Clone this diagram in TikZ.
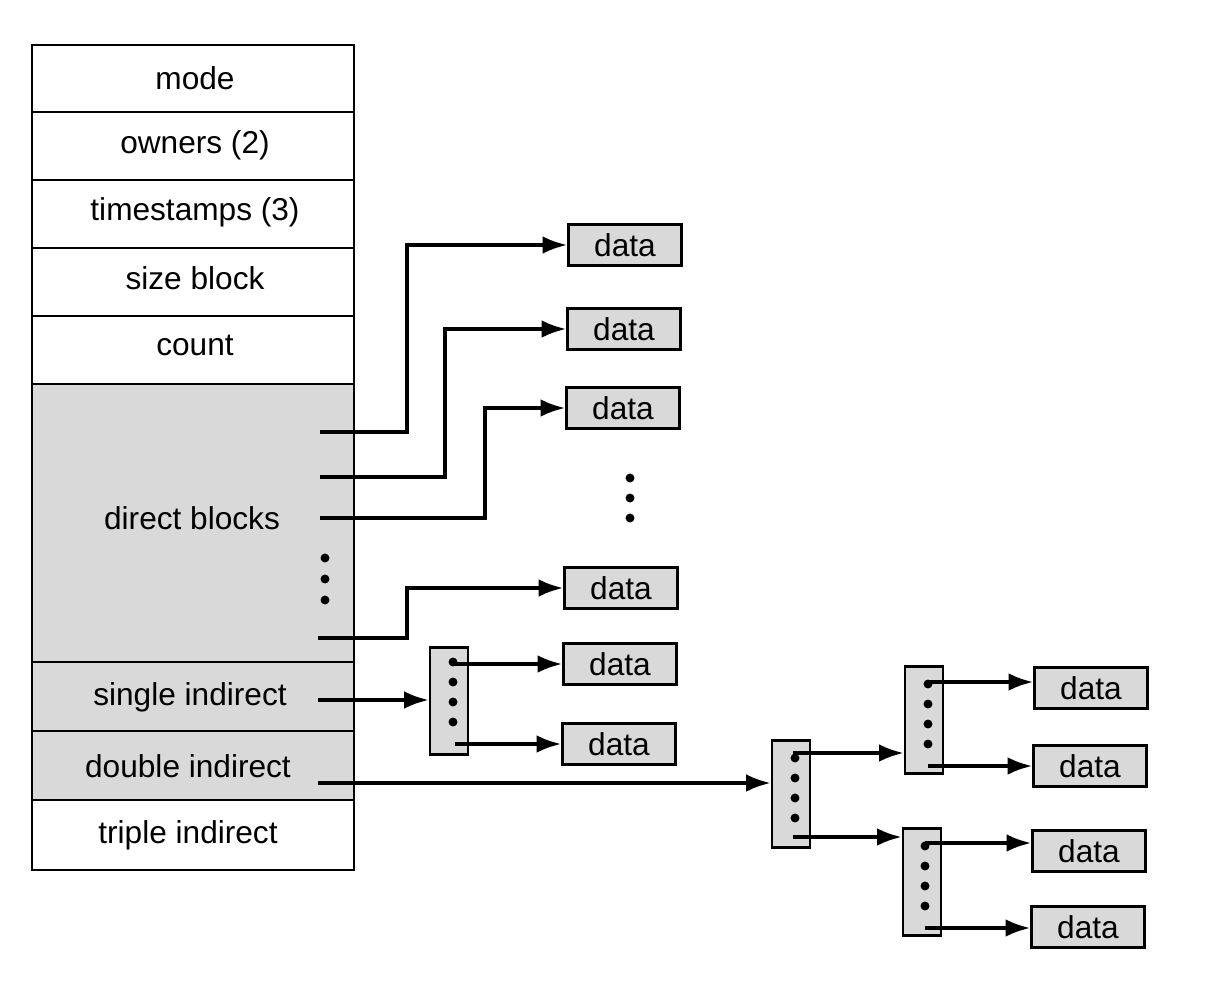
\documentclass[tikz,border=0pt]{standalone}
\usepackage{fontspec}
\setmainfont{Liberation Sans}
\usetikzlibrary{arrows.meta}
\definecolor{boxgray}{gray}{0.85}
\begin{document}
\begin{tikzpicture}[x=0.02cm,y=-0.02cm,
  txt/.style={font=\fontsize{18}{20}\selectfont},
  data/.style={draw,line width=1.4pt,fill=boxgray,minimum width=2.26cm,minimum height=0.82cm,inner sep=0pt,font=\fontsize{18}{20}\selectfont},
  idx/.style={draw,line width=1.4pt,fill=boxgray,minimum width=0.76cm,minimum height=2.14cm,inner sep=0pt},
  conn/.style={line width=2pt,-{Latex[length=14pt,width=10pt]}},
  dot/.style={circle,fill,inner sep=1.8pt}]
\useasboundingbox (0,0) rectangle (1215,995);
% inode
\fill[boxgray] (32,384) rectangle (354,800);
\draw[line width=1.4pt] (32,45) rectangle (354,870);
\foreach \y in {112,180,248,316,384,662,731,800} \draw[line width=1.4pt] (32,\y) -- (354,\y);
\node[txt] (mode) at (195,78) {mode};
\node[txt] (own) at (195,145) {owners (2)};
\node[txt] (ts) at (195,212) {timestamps (3)};
\node[txt] (sz) at (195,278) {size block};
\node[txt] (cnt) at (195,345) {count};
\node[txt] (db) at (192,518) {direct blocks};
\node[txt] (si) at (190,697) {single indirect};
\node[txt] (di) at (188,766) {double indirect};
\node[txt] (ti) at (188,835) {triple indirect};
\foreach \y in {558,579,600} \node[dot] at (325,\y) {};
% data boxes
\node[data] (d1) at (625,245) {data};
\node[data] (d2) at (624,329) {data};
\node[data] (d3) at (623,408) {data};
\foreach \y in {478,498,518} \node[dot] at (630,\y) {};
\node[data] (d4) at (621,588) {data};
\node[data] (d5) at (620,664) {data};
\node[data] (d6) at (619,744) {data};
\node[data] (e1) at (1091,688) {data};
\node[data] (e2) at (1090,766) {data};
\node[data] (e3) at (1089,851) {data};
\node[data] (e4) at (1088,927) {data};
% index blocks
\node[idx] (i1) at (449,701) {};
\node[idx] (i2) at (791,794) {};
\node[idx] (i3) at (924,720) {};
\node[idx] (i4) at (922,882) {};
\foreach \y in {662,682,702,722} \node[dot] at (453,\y) {};
\foreach \y in {758,778,798,818} \node[dot] at (795,\y) {};
\foreach \y in {684,704,724,744} \node[dot] at (928,\y) {};
\foreach \y in {846,866,886,906} \node[dot] at (925,\y) {};
% start coordinates
\coordinate (s1) at (320,432); \coordinate (s2) at (320,477);
\coordinate (s3) at (320,518); \coordinate (s4) at (318,638);
\coordinate (s5) at (318,700); \coordinate (s6) at (318,783);
\draw[conn] (s1) -- (407,432) |- (d1.west);
\draw[conn] (s2) -- (445,477) |- (d2.west);
\draw[conn] (s3) -- (485,518) |- (d3.west);
\draw[conn] (s4) -- (407,638) |- (d4.west);
\draw[conn] (s5) -- (i1.west|-s5);
\draw[conn] (455,664) -- (d5.west);
\draw[conn] (455,744) -- (d6.west);
\draw[conn] (s6) -- (i2.west|-s6);
\draw[conn] (793,753) -- (i3.west|-0,753);
\draw[conn] (793,837) -- (i4.west|-0,837);
\draw[conn] (928,682) -- (e1.west|-0,682);
\draw[conn] (928,766) -- (e2.west);
\draw[conn] (925,843) -- (e3.west|-0,843);
\draw[conn] (925,928) -- (e4.west|-0,928);
\end{tikzpicture}
\end{document}
